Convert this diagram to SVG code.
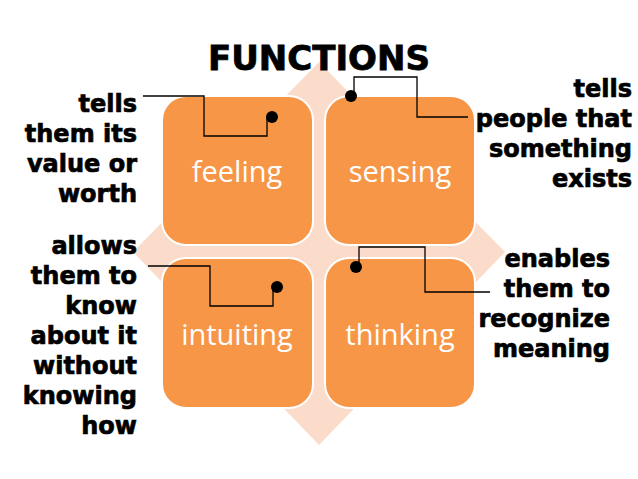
<svg xmlns="http://www.w3.org/2000/svg" width="638" height="479" viewBox="0 0 638 479">
<style>
.box{fill:#F79646;stroke:#fff;stroke-width:2}
.lbl{font-family:"Open Sans","DejaVu Sans",sans-serif;font-size:29px;fill:#fff;text-anchor:middle}
.t{font-family:"DejaVu Sans",sans-serif;font-weight:bold;font-size:24px;fill:#000;stroke:#000;stroke-width:0.7}
.l{fill:none;stroke:#000;stroke-width:1.3}
</style>
<rect width="638" height="479" fill="#fff"/>
<polygon points="319,62 505,252 319,445 133,252" fill="#FBDCCB"/>
<text x="319" y="70" font-family="DejaVu Sans,sans-serif" font-weight="bold" font-size="34" stroke="#000" stroke-width="0.8" text-anchor="middle" textLength="222" lengthAdjust="spacingAndGlyphs">FUNCTIONS</text>
<g id="feeling"><rect class="box" x="162" y="96" width="151" height="149" rx="24"/><text class="lbl" x="237" y="182">feeling</text></g>
<g id="sensing"><rect class="box" x="325" y="96" width="150" height="149" rx="24"/><text class="lbl" x="400" y="182">sensing</text></g>
<g id="intuiting"><rect class="box" x="162" y="258" width="151" height="150" rx="24"/><text class="lbl" x="237" y="345">intuiting</text></g>
<g id="thinking"><rect class="box" x="325" y="258" width="150" height="150" rx="24"/><text class="lbl" x="400" y="345">thinking</text></g>
<g id="connectors">
<polyline class="l" points="143,96 204,96 204,136 267,136 267,117"/><circle cx="272" cy="117" r="6"/>
<polyline class="l" points="354,96 354,77 417,77 417,117 468,117"/><circle cx="351" cy="96" r="6"/>
<polyline class="l" points="148,266 210,266 210,306 273,306 273,290"/><circle cx="277" cy="287" r="6"/>
<polyline class="l" points="359,267 359,247 425,247 425,292 490,292"/><circle cx="356" cy="267" r="6"/>
</g>
<g id="t1" class="t" text-anchor="end"><text x="137" y="112">tells</text><text x="137" y="142">them its</text><text x="137" y="172">value or</text><text x="137" y="202">worth</text></g>
<g id="t2" class="t" text-anchor="end"><text x="137" y="254">allows</text><text x="137" y="284">them to</text><text x="137" y="314">know</text><text x="137" y="344">about it</text><text x="137" y="374">without</text><text x="137" y="404">knowing</text><text x="137" y="434">how</text></g>
<g id="t3" class="t" text-anchor="end"><text x="632" y="97">tells</text><text x="632" y="127">people that</text><text x="632" y="157">something</text><text x="632" y="187">exists</text></g>
<g id="t4" class="t" text-anchor="end"><text x="610" y="267">enables</text><text x="610" y="297">them to</text><text x="610" y="327">recognize</text><text x="610" y="357">meaning</text></g>
</svg>
